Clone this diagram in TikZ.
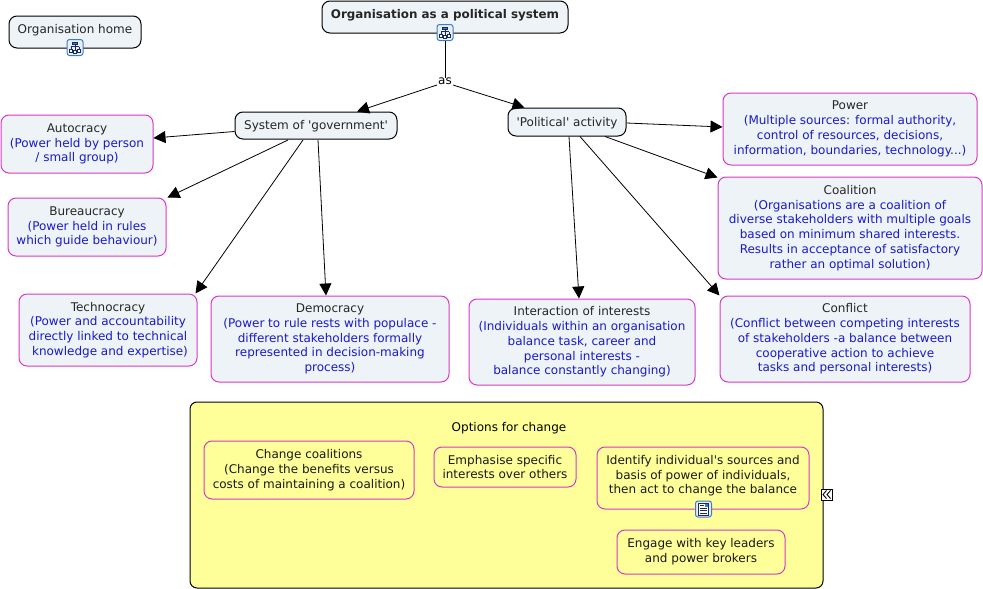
\documentclass[tikz,border=0pt]{standalone}
\usepackage{fontspec}
\setmainfont{DejaVu Sans}
\usetikzlibrary{arrows.meta,calc}
\definecolor{boxfill}{HTML}{EDF3F6}
\definecolor{magentaline}{HTML}{D838C8}
\definecolor{bluetext}{HTML}{1A1AC8}
\definecolor{notefill}{HTML}{FFFF99}
\definecolor{iconblue}{HTML}{3C7CC8}
\definecolor{iconfill}{HTML}{E6F0FA}
\definecolor{iconink}{HTML}{1A2A60}
\newcommand{\bl}[1]{\textcolor{bluetext}{#1}}
\newcommand{\apos}{\textquotesingle}
\newcommand{\bx}[7]{%
  \pgfmathsetmacro{\cxv}{(#3+#5)/2}\pgfmathsetmacro{\cyv}{(#4+#6)/2}%
  \pgfmathsetmacro{\wv}{#5-#3}\pgfmathsetmacro{\hv}{#6-#4}%
  \node[#2,minimum width=\wv pt,minimum height=\hv pt] (#1) at (\cxv,\cyv) {#7};}
\newcommand{\treeicon}[1]{%
  \begin{scope}[shift={(#1.center)},iconink,line width=0.6pt]
    \draw[fill=iconblue] (-2.5,-5.5) rectangle (2.5,-3);
    \draw (0,-3) -- (0,3) (-4,-1) -- (4,-1) (-4,-1) -- (-4,1.5) (4,-1) -- (4,1.5);
    \draw[fill=white] (-5.5,1.5) rectangle (-2.5,4.5);
    \draw[fill=white] (2.5,1.5) rectangle (5.5,4.5);
    \draw[fill=white] (-1.5,3) rectangle (1.5,5.5);
  \end{scope}}
\newcommand{\docicon}[1]{%
  \begin{scope}[shift={(#1.center)},iconink,line width=0.7pt]
    \draw[fill=white] (-5,-6) rectangle (5,6);
    \draw (-3.5,-3.5) -- (0.5,-3.5) (-3.5,-1) -- (3.5,-1) (-3.5,1.5) -- (3.5,1.5) (-3.5,4) -- (3.5,4);
    \fill[iconblue] (1.5,-5) rectangle (4.5,-2.5);
  \end{scope}}
\tikzset{
  concept/.style={draw=black,line width=1pt,fill=boxfill,rounded corners=8pt,inner sep=0pt,align=center,text=black!85},
  detail/.style={concept,draw=magentaline},
  note/.style={draw=magentaline,line width=1pt,rounded corners=8pt,inner sep=0pt,align=center,text=black!90},
  panel/.style={draw=black,line width=1pt,fill=notefill,rounded corners=7pt,inner sep=0pt},
  iconbox/.style={draw=iconblue,line width=1pt,fill=iconfill,rounded corners=2.5pt,minimum size=16pt,inner sep=0pt},
  link/.style={draw=black,line width=0.8pt},
  arr/.style={link,-{Triangle[length=12pt,width=12pt]}},
}
\begin{document}
\begin{tikzpicture}[x=1pt,y=-1pt,font=\fontsize{12}{14.8}\selectfont]
\useasboundingbox (0,0) rectangle (983,589);
\bx{home}{concept}{9}{16}{141}{48}{\raisebox{-1pt}[0pt][0pt]{Organisation home}}
\bx{main}{concept}{322}{1}{568}{33}{\raisebox{-1pt}[0pt][0pt]{\fontsize{11.9}{15}\selectfont\textbf{Organisation as a political system}}}
\bx{sys}{concept}{235}{112}{397}{139}{\raisebox{-4pt}[0pt][0pt]{System of \apos government\apos}}
\bx{pol}{concept}{508}{108}{626}{136}{\raisebox{-4pt}[0pt][0pt]{\apos Political\apos{} activity}}
\bx{auto}{detail}{1}{115}{153}{173}{Autocracy\\ \bl{(Power held by person}\\ \bl{/ small group)}}
\bx{bur}{detail}{8}{198}{166}{256}{Bureaucracy\\ \bl{(Power held in rules}\\ \bl{which guide behaviour)}}
\bx{tech}{detail}{19}{294}{197}{366}{Technocracy\\ \bl{(Power and accountability}\\ \bl{directly linked to technical}\\ \bl{\hspace{4pt}knowledge and expertise)}}
\bx{demo}{detail}{211}{296}{449}{382}{Democracy\\ \bl{(Power to rule rests with populace -}\\ \bl{different stakeholders formally}\\ \bl{represented in decision-making}\\ \bl{process)}}
\bx{inter}{detail}{469}{299}{695}{385}{Interaction of interests\\ \bl{(Individuals within an organisation}\\ \bl{balance task, career and}\\ \bl{personal interests -}\\ \bl{balance constantly changing)}}
\bx{conf}{detail}{720}{296}{970}{382}{Conflict\\ \bl{(Conflict between competing interests}\\ \bl{of stakeholders -a balance between}\\ \bl{cooperative action to achieve}\\ \bl{tasks and personal interests)}}
\bx{pow}{detail}{723}{93}{977}{165}{Power\\ \bl{(Multiple sources: formal authority,}\\ \bl{control of resources, decisions,}\\ \bl{information, boundaries, technology...)}}
\bx{coal}{detail}{718}{177}{982}{279}{Coalition\\ \bl{(Organisations are a coalition of}\\ \bl{diverse stakeholders with multiple goals}\\ \bl{based on minimum shared interests.}\\ \bl{Results in acceptance of satisfactory}\\ \bl{rather an optimal solution)}}
\bx{opts}{panel}{190}{402}{823}{588}{}
\node[inner sep=0pt] (optlabel) at (509,428.5) {Options for change};
\bx{chg}{note}{204}{441}{414}{499}{Change coalitions\\ (Change the benefits versus\\ costs of maintaining a coalition)}
\bx{emph}{note}{434}{447}{576}{487}{Emphasise specific\\ interests over others}
\bx{iden}{note}{597}{447}{809}{509}{Identify individual\apos s sources and\\ basis of power of individuals,\\ then act to change the balance\\[-8pt]\mbox{}}
\bx{enga}{note}{617}{530}{785}{574}{Engage with key leaders\\ and power brokers}
\node[iconbox] (homeicon) at (75,47.5) {};
\treeicon{homeicon}
\node[iconbox] (mainicon) at (445,32.5) {};
\treeicon{mainicon}
\node[iconbox] (docic) at (703.5,509) {};
\docicon{docic}
\node[draw=black,line width=0.9pt,fill=white,minimum size=11pt,inner sep=0pt] (collapse) at (826.5,494.5) {};
\draw[black,line width=0.9pt] ($(collapse.center)+(0,-4)$) -- ++(-3.5,4) -- ++(3.5,4) ($(collapse.center)+(4,-4)$) -- ++(-3.5,4) -- ++(3.5,4);
\node[inner sep=1pt] (as) at (445,81) {as};
\draw[link] (mainicon.south) -- ($(as.north)+(0,2)$);
\draw[arr] ($(as.center)+(-8,4)$) -- ($(sys.north)+(41,0)$);
\draw[arr] ($(as.center)+(8,4)$) -- ($(pol.north west)+(17,0)$);
\draw[arr] ($(sys.west)+(0,6)$) -- ($(auto.east)+(0,-6)$);
\draw[arr] ($(sys.south)+(-28,0.5)$) -- ($(bur.north east)+(1,0)$);
\draw[arr] ($(sys.south)+(-13,0.5)$) -- ($(tech.north east)+(-2,0)$);
\draw[arr] ($(sys.south)+(2,0.5)$) -- ($(demo.north)+(-4,0)$);
\draw[arr] ($(pol.east)+(0,1)$) -- ($(pow.west)+(0,-2)$);
\draw[arr] ($(pol.south)+(38,0)$) -- ($(coal.north west)+(0,1)$);
\draw[arr] ($(pol.south)+(13,0)$) -- ($(conf.north west)+(0,0)$);
\draw[arr] ($(pol.south)+(2,0)$) -- ($(inter.north)+(-3,0)$);
\end{tikzpicture}
\end{document}
